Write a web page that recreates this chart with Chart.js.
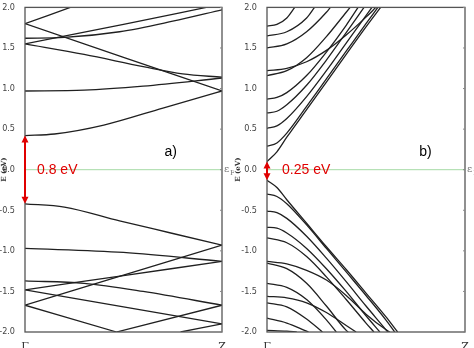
<!DOCTYPE html>
<html lang="en">
  <head>
    <meta charset="UTF-8" />
    <title>Band structure a) / b)</title>
    <script src="https://cdn.jsdelivr.net/npm/chart.js"></script>
    <style>
      body { margin: 0; background: #fff; }
      #chartA { position: absolute; left: 0; top: 0; }
      #chartB { position: absolute; left: 234px; top: 0; }
    </style>
  </head>
  <body>
    <canvas id="chartA" width="234" height="348"></canvas>
    <canvas id="chartB" width="240" height="348"></canvas>

    <script>
      // k path labels and energy ticks (eV)
      const kLabels = ["Γ", "Z"];
      const energyTicks = [-2, -1.5, -1, -0.5, 0, 0.5, 1, 1.5, 2];
      const fermiLevel = [[0, 0], [1, 0]];

      // panel a) bands, [k, E] points
      const aConduction = [
        [[0, 0.42], [0.15, 0.44], [0.4, 0.55], [0.7, 0.76], [1, 0.97]],
        [[0, 0.97], [0.3, 0.98], [0.6, 1.03], [1, 1.13]],
        [[0, 1.55], [0.3, 1.42], [0.6, 1.27], [0.8, 1.18], [1, 1.14]],
        [[0, 1.8], [0.5, 1.385], [1, 0.97]],
        [[0, 1.8], [0.23, 2.0]],
        [[0, 1.55], [0.5, 1.79], [0.92, 2.0]],
        [[0, 1.62], [0.2, 1.63], [0.48, 1.7], [0.75, 1.83], [1, 1.97]],
      ];
      const aValence = [
        [[0, -0.42], [0.2, -0.46], [0.48, -0.63], [0.74, -0.78], [1, -0.93]],
        [[0, -0.97], [0.5, -1.02], [1, -1.13]],
        [[0, -1.48], [0.5, -1.305], [1, -1.13]],
        [[0, -1.67], [0.5, -1.3], [1, -0.93]],
        [[0, -1.37], [0.3, -1.4], [0.6, -1.5], [1, -1.67]],
        [[0, -1.48], [0.5, -1.69], [1, -1.9]],
        [[0, -1.67], [0.465, -2.0]],
        [[0.465, -2.0], [1, -1.67]],
        [[0.79, -2.0], [1, -1.9]],
      ];

      // panel b) bands
      const bConduction = [
        [[0, 0.1], [0.05, 0.22], [0.1, 0.4], [0.2, 0.74], [0.3, 1.08], [0.4, 1.42], [0.5, 1.76], [0.574, 2.0]],
        [[0, 0.29], [0.05, 0.33], [0.1, 0.45], [0.2, 0.78], [0.3, 1.12], [0.4, 1.46], [0.5, 1.8], [0.56, 2.0]],
        [[0, 0.51], [0.05, 0.54], [0.1, 0.63], [0.2, 0.9], [0.3, 1.22], [0.4, 1.56], [0.5, 1.9], [0.53, 2.0]],
        [[0, 0.7], [0.05, 0.72], [0.1, 0.8], [0.2, 1.04], [0.3, 1.35], [0.4, 1.69], [0.49, 2.0]],
        [[0, 0.87], [0.05, 0.89], [0.1, 0.95], [0.2, 1.16], [0.3, 1.45], [0.4, 1.78], [0.46, 2.0]],
        [[0, 1.16], [0.1, 1.22], [0.2, 1.38], [0.3, 1.64], [0.4, 1.94], [0.42, 2.0]],
        [[0, 1.22], [0.1, 1.25], [0.2, 1.33], [0.3, 1.47], [0.4, 1.66], [0.5, 1.88], [0.55, 2.0]],
        [[0, 1.5], [0.1, 1.55], [0.2, 1.7], [0.3, 1.94], [0.32, 2.0]],
        [[0, 1.65], [0.1, 1.7], [0.2, 1.87], [0.24, 2.0]],
        [[0, 1.77], [0.05, 1.79], [0.1, 1.87], [0.14, 2.0]],
      ];
      const bValence = [
        [[0, -0.13], [0.05, -0.22], [0.1, -0.37], [0.2, -0.66], [0.3, -0.95], [0.4, -1.23], [0.5, -1.52], [0.6, -1.81], [0.66, -2.0]],
        [[0, -0.3], [0.05, -0.33], [0.1, -0.42], [0.2, -0.68], [0.3, -0.97], [0.4, -1.26], [0.5, -1.55], [0.6, -1.85], [0.645, -2.0]],
        [[0, -0.51], [0.05, -0.53], [0.1, -0.6], [0.2, -0.82], [0.3, -1.09], [0.4, -1.38], [0.5, -1.68], [0.6, -1.97], [0.61, -2.0]],
        [[0, -0.71], [0.05, -0.72], [0.1, -0.78], [0.2, -0.97], [0.3, -1.22], [0.4, -1.5], [0.5, -1.8], [0.57, -2.0]],
        [[0, -0.84], [0.1, -0.9], [0.2, -1.07], [0.3, -1.32], [0.4, -1.6], [0.5, -1.89], [0.54, -2.0]],
        [[0, -1.13], [0.1, -1.16], [0.2, -1.24], [0.3, -1.36], [0.4, -1.55], [0.5, -1.78], [0.6, -1.97], [0.62, -2.0]],
        [[0, -1.15], [0.1, -1.22], [0.2, -1.4], [0.3, -1.68], [0.4, -1.98], [0.41, -2.0]],
        [[0, -1.4], [0.1, -1.45], [0.2, -1.6], [0.3, -1.85], [0.35, -2.0]],
        [[0, -1.56], [0.1, -1.58], [0.2, -1.64], [0.3, -1.76], [0.4, -1.92], [0.45, -2.0]],
        [[0, -1.64], [0.1, -1.69], [0.2, -1.84], [0.28, -2.0]],
        [[0, -1.83], [0.1, -1.89], [0.2, -1.99], [0.21, -2.0]],
        [[0, -1.98], [0.1, -1.99], [0.15, -2.0]],
      ];

      function toPoints(arr) {
        return arr.map((p) => ({ x: p[0], y: p[1] }));
      }

      // frame, gap arrow, labels
      const decor = {
        id: "decor",
        afterDatasetsDraw(chart, args, opts) {
          const { ctx, chartArea: a, scales } = chart;
          const x = scales.x, y = scales.y;
          ctx.save();
          ctx.strokeStyle = "#555";
          ctx.lineWidth = 1.3;
          ctx.strokeRect(a.left, a.top, a.right - a.left, a.bottom - a.top);
          // small ticks on right border
          ctx.lineWidth = 1;
          ctx.strokeStyle = "#888";
          energyTicks.forEach((v) => {
            const py = y.getPixelForValue(v);
            ctx.beginPath();
            ctx.moveTo(a.right, py);
            ctx.lineTo(a.right - 2, py);
            ctx.stroke();
          });

          // red double arrow for the gap
          const ax = x.getPixelForValue(0);
          const yTop = y.getPixelForValue(opts.gap[1]);
          const yBot = y.getPixelForValue(opts.gap[0]);
          ctx.strokeStyle = "#e00000";
          ctx.fillStyle = "#e00000";
          ctx.lineWidth = 2;
          ctx.beginPath();
          ctx.moveTo(ax, yTop + 4);
          ctx.lineTo(ax, yBot - 4);
          ctx.stroke();
          [[yTop, 1], [yBot, -1]].forEach(([py, dir]) => {
            ctx.beginPath();
            ctx.moveTo(ax, py);
            ctx.lineTo(ax - 3.5, py + dir * 7);
            ctx.lineTo(ax + 3.5, py + dir * 7);
            ctx.closePath();
            ctx.fill();
          });

          const y0 = y.getPixelForValue(0);
          ctx.font = '14px "Liberation Sans", Arial, sans-serif';
          ctx.textBaseline = "middle";
          ctx.textAlign = "left";
          ctx.fillText(opts.gapText, ax + opts.gapTextOffset, y0);

          ctx.fillStyle = "#000";
          ctx.textAlign = "center";
          ctx.fillText(opts.tag, x.getPixelForValue(opts.tagAt[0]), y.getPixelForValue(opts.tagAt[1]));

          // Fermi level label
          ctx.fillStyle = "#777";
          ctx.textAlign = "left";
          ctx.font = '10px "DejaVu Serif", serif';
          ctx.fillText("ε", a.right + 2, y0);
          ctx.font = '7px "DejaVu Serif", serif';
          ctx.fillText("F", a.right + 8, y0 + 3);
          ctx.restore();
        },
      };

      function drawPanel(id, conduction, valence, axisWidth, rightPad, opts) {
        const ctx = document.getElementById(id).getContext("2d");
        const datasets = [
          {
            data: toPoints(fermiLevel),
            borderColor: "#a6dba6",
            borderWidth: 1,
            pointRadius: 0,
          },
        ];
        conduction.concat(valence).forEach((band) => {
          datasets.push({
            data: toPoints(band),
            borderColor: "#202020",
            borderWidth: 1.3,
            pointRadius: 0,
            cubicInterpolationMode: "monotone",
          });
        });

        return new Chart(ctx, {
          type: "line",
          data: { datasets: datasets },
          plugins: [decor],
          options: {
            responsive: false,
            animation: false,
            layout: { padding: { top: 7, right: rightPad, left: 0, bottom: 0 } },
            plugins: {
              legend: { display: false },
              tooltip: { enabled: false },
              decor: opts,
            },
            scales: {
              x: {
                type: "linear",
                min: 0,
                max: 1,
                afterBuildTicks: (s) => {
                  s.ticks = [{ value: 0 }, { value: 1 }];
                },
                afterFit: (s) => {
                  s.height = 16;
                },
                grid: { display: false },
                border: { display: false },
                ticks: {
                  callback: (v) => (v === 0 ? kLabels[0] : kLabels[1]),
                  color: "#333",
                  padding: 1,
                  maxRotation: 0,
                  font: { family: '"DejaVu Serif", serif', size: 11 },
                },
              },
              y: {
                type: "linear",
                min: -2,
                max: 2,
                afterBuildTicks: (s) => {
                  s.ticks = energyTicks.map((v) => ({ value: v }));
                },
                afterFit: (s) => {
                  s.width = axisWidth;
                },
                grid: { display: false },
                border: { display: false },
                ticks: {
                  callback: (v) => v.toFixed(1),
                  color: "#444",
                  padding: 2,
                  font: { family: '"Liberation Sans Narrow", "DejaVu Sans Condensed", sans-serif', size: 9 },
                },
                title: {
                  display: true,
                  text: "E (eV)",
                  color: "#333",
                  padding: 0,
                  font: { family: '"DejaVu Serif", serif', size: 7, weight: "bold" },
                },
              },
            },
          },
        });
      }

      drawPanel("chartA", aConduction, aValence, 25, 12, {
        gap: [-0.42, 0.42],
        gapText: "0.8 eV",
        gapTextOffset: 12,
        tag: "a)",
        tagAt: [0.74, 0.22],
      });
      drawPanel("chartB", bConduction, bValence, 33, 9, {
        gap: [-0.13, 0.1],
        gapText: "0.25 eV",
        gapTextOffset: 15,
        tag: "b)",
        tagAt: [0.8, 0.22],
      });
    </script>
  </body>
</html>
